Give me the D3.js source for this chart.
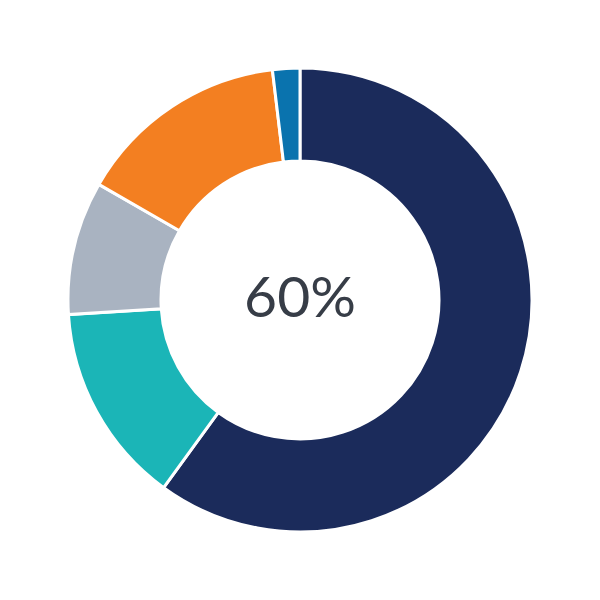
<!DOCTYPE html>
<html><head><meta charset="utf-8">
<script src="https://cdn.jsdelivr.net/npm/d3@7"></script>
<style>html,body{margin:0;padding:0;background:#fff;}</style>
</head><body>
<svg id="c" width="600" height="600"></svg>
<script>
const categories = ["A", "B", "C", "D", "E"];
const values = [60, 14, 9.3, 14.8, 1.9];
const colors = ["#1b2b5b", "#1bb5b7", "#a9b3c1", "#f37f21", "#0a73ae"];
const centerLabel = "60%";

const svg = d3.select("#c");
const g = svg.append("g").attr("transform", "translate(300,300)");
const pie = d3.pie().sort(null).value(d => d.v);
const arc = d3.arc().innerRadius(139).outerRadius(232);
const data = categories.map((c, i) => ({c, v: values[i]}));
const color = d3.scaleOrdinal().domain(categories).range(colors);
g.selectAll("path").data(pie(data)).join("path")
  .attr("d", arc)
  .attr("fill", d => color(d.data.c))
  .attr("stroke", "#fff")
  .attr("stroke-width", 3);
g.append("text").text(centerLabel)
  .attr("text-anchor", "middle")
  .attr("y", 17)
  .attr("font-family", "Lato")
  .attr("font-weight", 400)
  .attr("font-size", 57)
  .attr("fill", "#373d47");
</script>
</body></html>
